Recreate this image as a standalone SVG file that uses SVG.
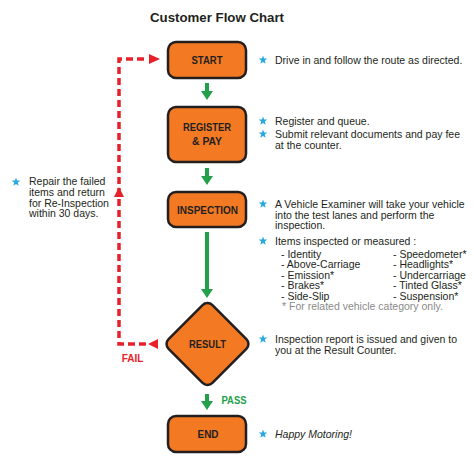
<svg xmlns="http://www.w3.org/2000/svg" width="474" height="476" viewBox="0 0 474 476">
<style>
.box{fill:#F37A23;stroke:#231F20;stroke-width:2.5}
.bt{font-family:"Liberation Sans",Arial,sans-serif;font-weight:bold;font-size:11.5px;fill:#231F20;text-anchor:middle}
.t{font-family:"Liberation Sans",Arial,sans-serif;font-size:10.5px;fill:#231F20}
.g{fill:#8A8A8A}
.star{fill:#29A9E0}
.gl{stroke:#23A14A;stroke-width:4;fill:none}
.gh{fill:#23A14A}
.rd{stroke:#E8202A;stroke-width:3.5;fill:none;stroke-dasharray:7 4}
.rh{fill:#E8202A}
</style>
<defs>
<path id="st" d="M0,-4.5 L1.12,-1.54 L4.28,-1.39 L1.81,0.59 L2.65,3.64 L0,1.9 L-2.65,3.64 L-1.81,0.59 L-4.28,-1.39 L-1.12,-1.54 Z"/>
</defs>
<rect width="474" height="476" fill="#ffffff"/>
<text x="217" y="22" font-family="'Liberation Sans',Arial,sans-serif" font-weight="bold" font-size="13.5" fill="#231F20" text-anchor="middle" textLength="134" lengthAdjust="spacingAndGlyphs">Customer Flow Chart</text>

<g id="connectors">
  <line class="gl" x1="207" y1="83" x2="207" y2="93"/>
  <polygon class="gh" points="201,91 213,91 207,100"/>
  <line class="gl" x1="207" y1="168" x2="207" y2="178"/>
  <polygon class="gh" points="201,176 213,176 207,185"/>
  <line class="gl" x1="207" y1="232" x2="207" y2="291"/>
  <polygon class="gh" points="201,289 213,289 207,298"/>
  <line class="gl" x1="207" y1="394" x2="207" y2="403"/>
  <polygon class="gh" points="201,401 213,401 207,410"/>
  <path class="rd" d="M146,344 H119 V59 H147"/>
  <polygon class="rh" points="158,339 158,349 148,344"/>
  <polygon class="rh" points="149,54 149,64 160,59"/>
  <polygon class="rh" points="114,197 124,197 119,187"/>
  <text x="132.5" y="362" font-family="'Liberation Sans',Arial,sans-serif" font-weight="bold" font-size="10" fill="#E8202A" text-anchor="middle">FAIL</text>
  <text x="234" y="404" font-family="'Liberation Sans',Arial,sans-serif" font-weight="bold" font-size="10" fill="#23A14A" text-anchor="middle" textLength="25" lengthAdjust="spacingAndGlyphs">PASS</text>
</g>

<g id="start">
  <rect class="box" x="168" y="42" width="78" height="36" rx="8"/>
  <text class="bt" x="207" y="64" textLength="31" lengthAdjust="spacingAndGlyphs">START</text>
</g>
<g id="register">
  <rect class="box" x="168" y="107" width="78" height="55" rx="8"/>
  <text class="bt" x="207" y="131" textLength="48" lengthAdjust="spacingAndGlyphs">REGISTER</text>
  <text class="bt" x="207" y="144.5" textLength="30" lengthAdjust="spacingAndGlyphs">&amp; PAY</text>
</g>
<g id="inspection">
  <rect class="box" x="168" y="192" width="78" height="35" rx="8"/>
  <text class="bt" x="207.5" y="213.5" textLength="61" lengthAdjust="spacingAndGlyphs">INSPECTION</text>
</g>
<g id="result">
  <rect class="box" x="176.5" y="313" width="62" height="62" rx="7" transform="rotate(45 207.5 344)"/>
  <text class="bt" x="207.5" y="348" textLength="37" lengthAdjust="spacingAndGlyphs">RESULT</text>
</g>
<g id="end">
  <rect class="box" x="168" y="416" width="78" height="36" rx="8"/>
  <text class="bt" x="208" y="438" textLength="21" lengthAdjust="spacingAndGlyphs">END</text>
</g>

<g id="notes">
  <use href="#st" class="star" x="263" y="60"/>
  <text class="t" x="275" y="64">Drive in and follow the route as directed.</text>

  <use href="#st" class="star" x="263" y="121"/>
  <text class="t" x="275" y="125">Register and queue.</text>
  <use href="#st" class="star" x="263" y="134"/>
  <text class="t" x="275" y="138">Submit relevant documents and pay fee</text>
  <text class="t" x="275" y="148.5">at the counter.</text>

  <use href="#st" class="star" x="263" y="204"/>
  <text class="t" x="275" y="208">A Vehicle Examiner will take your vehicle</text>
  <text class="t" x="275" y="218.5">into the test lanes and perform the</text>
  <text class="t" x="275" y="229">inspection.</text>
  <use href="#st" class="star" x="263" y="241"/>
  <text class="t" x="275" y="245">Items inspected or measured :</text>
  <text class="t" x="281" y="257.5">- Identity</text>
  <text class="t" x="281" y="268">- Above-Carriage</text>
  <text class="t" x="281" y="278.5">- Emission*</text>
  <text class="t" x="281" y="289">- Brakes*</text>
  <text class="t" x="281" y="299.5">- Side-Slip</text>
  <text class="t g" x="282" y="310">* For related vehicle category only.</text>
  <text class="t" x="393" y="257.5">- Speedometer*</text>
  <text class="t" x="393" y="268">- Headlights*</text>
  <text class="t" x="393" y="278.5">- Undercarriage</text>
  <text class="t" x="393" y="289">- Tinted Glass*</text>
  <text class="t" x="393" y="299.5">- Suspension*</text>

  <use href="#st" class="star" x="263" y="339"/>
  <text class="t" x="275" y="343">Inspection report is issued and given to</text>
  <text class="t" x="275" y="354">you at the Result Counter.</text>

  <use href="#st" class="star" x="263" y="434"/>
  <text class="t" x="275" y="438" font-style="italic">Happy Motoring!</text>

  <use href="#st" class="star" x="16" y="182"/>
  <text class="t" x="29" y="185">Repair the failed</text>
  <text class="t" x="29" y="196">items and return</text>
  <text class="t" x="29" y="206.5">for Re-Inspection</text>
  <text class="t" x="29" y="217">within 30 days.</text>
</g>
</svg>
